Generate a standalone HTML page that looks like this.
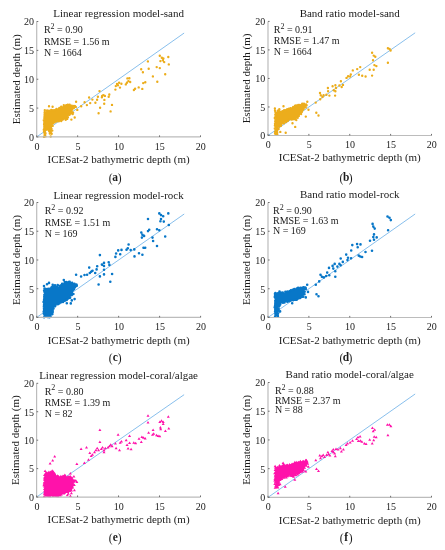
<!DOCTYPE html>
<html><head><meta charset="utf-8"><style>
html,body{margin:0;padding:0;background:#fff;}
svg{display:block;filter:blur(0.35px);}
text{font-family:"Liberation Serif",serif;fill:#1a1a1a;}
</style></head><body>
<svg width="445" height="550" viewBox="0 0 445 550">
<line x1="36.7" y1="136.95" x2="184.12" y2="33.05" stroke="#72b4e8" stroke-width="0.85"/>
<path d="M44.3 136.6L45.2 136.6L45.4 131.2L48.0 129.9L49.8 133.4L51.9 133.4L51.9 128.7L52.2 126.0L53.4 123.3L56.5 121.6L59.0 121.4L61.4 121.1L63.0 119.9L65.4 119.6L67.0 119.2L67.5 116.8L69.9 114.9L72.5 113.9L72.7 112.9L71.3 110.8L73.6 107.8L75.8 106.8L75.5 106.5L72.1 105.6L69.6 104.5L66.2 105.0L63.8 105.4L61.2 107.1L58.4 108.6L54.6 109.9L50.9 110.2L47.1 110.6L45.1 112.0L44.4 110.7L44.2 120.0Z" fill="#ECAD1C"/><path d="M42.8 136.9a1.2 1.2 0 1 0 2.4 0a1.2 1.2 0 1 0 -2.4 0M44.2 136.4a1.2 1.2 0 1 0 2.4 0a1.2 1.2 0 1 0 -2.4 0M44.0 134.7a1.2 1.2 0 1 0 2.4 0a1.2 1.2 0 1 0 -2.4 0M44.3 133.2a1.2 1.2 0 1 0 2.4 0a1.2 1.2 0 1 0 -2.4 0M43.9 130.7a1.2 1.2 0 1 0 2.4 0a1.2 1.2 0 1 0 -2.4 0M47.1 129.8a1.2 1.2 0 1 0 2.4 0a1.2 1.2 0 1 0 -2.4 0M48.0 131.2a1.2 1.2 0 1 0 2.4 0a1.2 1.2 0 1 0 -2.4 0M48.6 133.6a1.2 1.2 0 1 0 2.4 0a1.2 1.2 0 1 0 -2.4 0M50.5 133.8a1.2 1.2 0 1 0 2.4 0a1.2 1.2 0 1 0 -2.4 0M51.1 130.6a1.2 1.2 0 1 0 2.4 0a1.2 1.2 0 1 0 -2.4 0M50.3 128.8a1.2 1.2 0 1 0 2.4 0a1.2 1.2 0 1 0 -2.4 0M51.4 125.9a1.2 1.2 0 1 0 2.4 0a1.2 1.2 0 1 0 -2.4 0M52.0 123.2a1.2 1.2 0 1 0 2.4 0a1.2 1.2 0 1 0 -2.4 0M53.3 122.2a1.2 1.2 0 1 0 2.4 0a1.2 1.2 0 1 0 -2.4 0M55.3 121.6a1.2 1.2 0 1 0 2.4 0a1.2 1.2 0 1 0 -2.4 0M57.6 121.2a1.2 1.2 0 1 0 2.4 0a1.2 1.2 0 1 0 -2.4 0M60.0 121.1a1.2 1.2 0 1 0 2.4 0a1.2 1.2 0 1 0 -2.4 0M61.6 119.5a1.2 1.2 0 1 0 2.4 0a1.2 1.2 0 1 0 -2.4 0M64.5 119.7a1.2 1.2 0 1 0 2.4 0a1.2 1.2 0 1 0 -2.4 0M66.0 118.9a1.2 1.2 0 1 0 2.4 0a1.2 1.2 0 1 0 -2.4 0M66.7 117.2a1.2 1.2 0 1 0 2.4 0a1.2 1.2 0 1 0 -2.4 0M68.3 114.8a1.2 1.2 0 1 0 2.4 0a1.2 1.2 0 1 0 -2.4 0M71.5 114.1a1.2 1.2 0 1 0 2.4 0a1.2 1.2 0 1 0 -2.4 0M71.9 112.8a1.2 1.2 0 1 0 2.4 0a1.2 1.2 0 1 0 -2.4 0M70.4 110.9a1.2 1.2 0 1 0 2.4 0a1.2 1.2 0 1 0 -2.4 0M71.0 109.3a1.2 1.2 0 1 0 2.4 0a1.2 1.2 0 1 0 -2.4 0M72.7 108.1a1.2 1.2 0 1 0 2.4 0a1.2 1.2 0 1 0 -2.4 0M74.6 106.9a1.2 1.2 0 1 0 2.4 0a1.2 1.2 0 1 0 -2.4 0M73.9 106.3a1.2 1.2 0 1 0 2.4 0a1.2 1.2 0 1 0 -2.4 0M72.8 106.0a1.2 1.2 0 1 0 2.4 0a1.2 1.2 0 1 0 -2.4 0M70.6 105.7a1.2 1.2 0 1 0 2.4 0a1.2 1.2 0 1 0 -2.4 0M68.5 104.7a1.2 1.2 0 1 0 2.4 0a1.2 1.2 0 1 0 -2.4 0M66.6 104.7a1.2 1.2 0 1 0 2.4 0a1.2 1.2 0 1 0 -2.4 0M65.0 105.2a1.2 1.2 0 1 0 2.4 0a1.2 1.2 0 1 0 -2.4 0M62.6 105.3a1.2 1.2 0 1 0 2.4 0a1.2 1.2 0 1 0 -2.4 0M60.0 106.6a1.2 1.2 0 1 0 2.4 0a1.2 1.2 0 1 0 -2.4 0M58.2 108.0a1.2 1.2 0 1 0 2.4 0a1.2 1.2 0 1 0 -2.4 0M57.6 108.7a1.2 1.2 0 1 0 2.4 0a1.2 1.2 0 1 0 -2.4 0M55.2 109.0a1.2 1.2 0 1 0 2.4 0a1.2 1.2 0 1 0 -2.4 0M53.4 110.3a1.2 1.2 0 1 0 2.4 0a1.2 1.2 0 1 0 -2.4 0M51.8 110.1a1.2 1.2 0 1 0 2.4 0a1.2 1.2 0 1 0 -2.4 0M50.0 110.0a1.2 1.2 0 1 0 2.4 0a1.2 1.2 0 1 0 -2.4 0M47.8 110.8a1.2 1.2 0 1 0 2.4 0a1.2 1.2 0 1 0 -2.4 0M45.9 110.5a1.2 1.2 0 1 0 2.4 0a1.2 1.2 0 1 0 -2.4 0M43.6 112.0a1.2 1.2 0 1 0 2.4 0a1.2 1.2 0 1 0 -2.4 0M43.6 110.2a1.2 1.2 0 1 0 2.4 0a1.2 1.2 0 1 0 -2.4 0M43.4 112.8a1.2 1.2 0 1 0 2.4 0a1.2 1.2 0 1 0 -2.4 0M43.4 114.6a1.2 1.2 0 1 0 2.4 0a1.2 1.2 0 1 0 -2.4 0M43.3 116.3a1.2 1.2 0 1 0 2.4 0a1.2 1.2 0 1 0 -2.4 0M43.1 118.1a1.2 1.2 0 1 0 2.4 0a1.2 1.2 0 1 0 -2.4 0M42.6 120.3a1.2 1.2 0 1 0 2.4 0a1.2 1.2 0 1 0 -2.4 0M43.1 121.4a1.2 1.2 0 1 0 2.4 0a1.2 1.2 0 1 0 -2.4 0M43.0 123.3a1.2 1.2 0 1 0 2.4 0a1.2 1.2 0 1 0 -2.4 0M42.9 124.8a1.2 1.2 0 1 0 2.4 0a1.2 1.2 0 1 0 -2.4 0M43.1 126.8a1.2 1.2 0 1 0 2.4 0a1.2 1.2 0 1 0 -2.4 0M43.1 128.3a1.2 1.2 0 1 0 2.4 0a1.2 1.2 0 1 0 -2.4 0M42.6 129.7a1.2 1.2 0 1 0 2.4 0a1.2 1.2 0 1 0 -2.4 0M42.8 131.7a1.2 1.2 0 1 0 2.4 0a1.2 1.2 0 1 0 -2.4 0M43.4 133.5a1.2 1.2 0 1 0 2.4 0a1.2 1.2 0 1 0 -2.4 0M43.4 135.2a1.2 1.2 0 1 0 2.4 0a1.2 1.2 0 1 0 -2.4 0M158.6 55.7a1.2 1.2 0 1 0 2.4 0a1.2 1.2 0 1 0 -2.4 0M160.6 57.8a1.2 1.2 0 1 0 2.4 0a1.2 1.2 0 1 0 -2.4 0M162.2 58.4a1.2 1.2 0 1 0 2.4 0a1.2 1.2 0 1 0 -2.4 0M161.7 60.3a1.2 1.2 0 1 0 2.4 0a1.2 1.2 0 1 0 -2.4 0M159.2 61.1a1.2 1.2 0 1 0 2.4 0a1.2 1.2 0 1 0 -2.4 0M163.0 62.1a1.2 1.2 0 1 0 2.4 0a1.2 1.2 0 1 0 -2.4 0M167.1 57.0a1.2 1.2 0 1 0 2.4 0a1.2 1.2 0 1 0 -2.4 0M167.6 64.4a1.2 1.2 0 1 0 2.4 0a1.2 1.2 0 1 0 -2.4 0M146.7 61.4a1.2 1.2 0 1 0 2.4 0a1.2 1.2 0 1 0 -2.4 0M155.5 67.1a1.2 1.2 0 1 0 2.4 0a1.2 1.2 0 1 0 -2.4 0M158.6 68.1a1.2 1.2 0 1 0 2.4 0a1.2 1.2 0 1 0 -2.4 0M147.5 68.8a1.2 1.2 0 1 0 2.4 0a1.2 1.2 0 1 0 -2.4 0M140.0 69.3a1.2 1.2 0 1 0 2.4 0a1.2 1.2 0 1 0 -2.4 0M141.7 72.2a1.2 1.2 0 1 0 2.4 0a1.2 1.2 0 1 0 -2.4 0M164.0 74.2a1.2 1.2 0 1 0 2.4 0a1.2 1.2 0 1 0 -2.4 0M151.7 76.4a1.2 1.2 0 1 0 2.4 0a1.2 1.2 0 1 0 -2.4 0M156.1 81.8a1.2 1.2 0 1 0 2.4 0a1.2 1.2 0 1 0 -2.4 0M144.1 82.3a1.2 1.2 0 1 0 2.4 0a1.2 1.2 0 1 0 -2.4 0M142.0 83.1a1.2 1.2 0 1 0 2.4 0a1.2 1.2 0 1 0 -2.4 0M126.2 78.4a1.2 1.2 0 1 0 2.4 0a1.2 1.2 0 1 0 -2.4 0M128.2 78.2a1.2 1.2 0 1 0 2.4 0a1.2 1.2 0 1 0 -2.4 0M127.2 81.1a1.2 1.2 0 1 0 2.4 0a1.2 1.2 0 1 0 -2.4 0M129.0 82.0a1.2 1.2 0 1 0 2.4 0a1.2 1.2 0 1 0 -2.4 0M124.6 84.4a1.2 1.2 0 1 0 2.4 0a1.2 1.2 0 1 0 -2.4 0M120.2 83.8a1.2 1.2 0 1 0 2.4 0a1.2 1.2 0 1 0 -2.4 0M141.1 88.9a1.2 1.2 0 1 0 2.4 0a1.2 1.2 0 1 0 -2.4 0M137.5 87.4a1.2 1.2 0 1 0 2.4 0a1.2 1.2 0 1 0 -2.4 0M133.9 88.8a1.2 1.2 0 1 0 2.4 0a1.2 1.2 0 1 0 -2.4 0M132.7 90.0a1.2 1.2 0 1 0 2.4 0a1.2 1.2 0 1 0 -2.4 0M115.8 84.0a1.2 1.2 0 1 0 2.4 0a1.2 1.2 0 1 0 -2.4 0M117.9 82.8a1.2 1.2 0 1 0 2.4 0a1.2 1.2 0 1 0 -2.4 0M116.8 85.2a1.2 1.2 0 1 0 2.4 0a1.2 1.2 0 1 0 -2.4 0M114.6 86.1a1.2 1.2 0 1 0 2.4 0a1.2 1.2 0 1 0 -2.4 0M118.8 87.6a1.2 1.2 0 1 0 2.4 0a1.2 1.2 0 1 0 -2.4 0M114.2 89.6a1.2 1.2 0 1 0 2.4 0a1.2 1.2 0 1 0 -2.4 0M98.3 91.1a1.2 1.2 0 1 0 2.4 0a1.2 1.2 0 1 0 -2.4 0M108.1 94.5a1.2 1.2 0 1 0 2.4 0a1.2 1.2 0 1 0 -2.4 0M107.5 96.8a1.2 1.2 0 1 0 2.4 0a1.2 1.2 0 1 0 -2.4 0M100.9 95.9a1.2 1.2 0 1 0 2.4 0a1.2 1.2 0 1 0 -2.4 0M102.2 95.1a1.2 1.2 0 1 0 2.4 0a1.2 1.2 0 1 0 -2.4 0M103.7 95.9a1.2 1.2 0 1 0 2.4 0a1.2 1.2 0 1 0 -2.4 0M100.7 97.2a1.2 1.2 0 1 0 2.4 0a1.2 1.2 0 1 0 -2.4 0M96.7 96.8a1.2 1.2 0 1 0 2.4 0a1.2 1.2 0 1 0 -2.4 0M95.9 99.7a1.2 1.2 0 1 0 2.4 0a1.2 1.2 0 1 0 -2.4 0M103.2 99.9a1.2 1.2 0 1 0 2.4 0a1.2 1.2 0 1 0 -2.4 0M94.2 102.8a1.2 1.2 0 1 0 2.4 0a1.2 1.2 0 1 0 -2.4 0M103.0 103.8a1.2 1.2 0 1 0 2.4 0a1.2 1.2 0 1 0 -2.4 0M110.8 104.9a1.2 1.2 0 1 0 2.4 0a1.2 1.2 0 1 0 -2.4 0M98.9 107.8a1.2 1.2 0 1 0 2.4 0a1.2 1.2 0 1 0 -2.4 0M109.4 111.4a1.2 1.2 0 1 0 2.4 0a1.2 1.2 0 1 0 -2.4 0M97.4 113.2a1.2 1.2 0 1 0 2.4 0a1.2 1.2 0 1 0 -2.4 0M74.9 101.7a1.2 1.2 0 1 0 2.4 0a1.2 1.2 0 1 0 -2.4 0M76.1 109.9a1.2 1.2 0 1 0 2.4 0a1.2 1.2 0 1 0 -2.4 0M73.5 117.5a1.2 1.2 0 1 0 2.4 0a1.2 1.2 0 1 0 -2.4 0M70.2 119.6a1.2 1.2 0 1 0 2.4 0a1.2 1.2 0 1 0 -2.4 0M80.0 106.2a1.2 1.2 0 1 0 2.4 0a1.2 1.2 0 1 0 -2.4 0M83.4 102.3a1.2 1.2 0 1 0 2.4 0a1.2 1.2 0 1 0 -2.4 0M85.7 105.1a1.2 1.2 0 1 0 2.4 0a1.2 1.2 0 1 0 -2.4 0M87.9 97.5a1.2 1.2 0 1 0 2.4 0a1.2 1.2 0 1 0 -2.4 0M89.0 103.1a1.2 1.2 0 1 0 2.4 0a1.2 1.2 0 1 0 -2.4 0M91.2 99.6a1.2 1.2 0 1 0 2.4 0a1.2 1.2 0 1 0 -2.4 0M125.7 82.8a1.2 1.2 0 1 0 2.4 0a1.2 1.2 0 1 0 -2.4 0M47.8 106.2a1.2 1.2 0 1 0 2.4 0a1.2 1.2 0 1 0 -2.4 0M51.4 106.7a1.2 1.2 0 1 0 2.4 0a1.2 1.2 0 1 0 -2.4 0M49.5 136.5a1.2 1.2 0 1 0 2.4 0a1.2 1.2 0 1 0 -2.4 0" fill="#ECAD1C"/>
<path d="M36.7 21.5V136.95H200.5" fill="none" stroke="#bcbcbc" stroke-width="1.2"/>
<path d="M36.7 136.95v-1.6M36.7 136.95h1.6M77.65 136.95v-1.6M36.7 108.09h1.6M118.6 136.95v-1.6M36.7 79.22h1.6M159.55 136.95v-1.6M36.7 50.36h1.6M200.5 136.95v-1.6M36.7 21.5h1.6" stroke="#707070" stroke-width="1"/>
<text x="37" y="149.9" text-anchor="middle" font-size="10">0</text>
<text x="34" y="140.8" text-anchor="end" font-size="10">0</text>
<text x="77.95" y="149.9" text-anchor="middle" font-size="10">5</text>
<text x="34" y="111.94" text-anchor="end" font-size="10">5</text>
<text x="118.9" y="149.9" text-anchor="middle" font-size="10">10</text>
<text x="34" y="83.07" text-anchor="end" font-size="10">10</text>
<text x="159.85" y="149.9" text-anchor="middle" font-size="10">15</text>
<text x="34" y="54.21" text-anchor="end" font-size="10">15</text>
<text x="200.8" y="149.9" text-anchor="middle" font-size="10">20</text>
<text x="34" y="25.35" text-anchor="end" font-size="10">20</text>
<text x="118.6" y="17.3" text-anchor="middle" font-size="11">Linear regression model-sand</text>
<text x="43.9" y="33" font-size="10">R<tspan font-size="8" dy="-4.2">2</tspan><tspan dy="4.2"> = 0.90</tspan></text>
<text x="43.9" y="44.5" font-size="10">RMSE = 1.56 m</text>
<text x="43.9" y="56" font-size="10">N = 1664</text>
<text x="118.6" y="163.2" text-anchor="middle" font-size="11">ICESat-2 bathymetric depth (m)</text>
<text transform="translate(19.5 79.22) rotate(-90)" text-anchor="middle" font-size="11">Estimated depth (m)</text>
<text x="108.7" y="182" font-size="11.5">(</text>
<text x="121.7" y="182" text-anchor="end" font-size="11.5">)</text>
<text transform="translate(115.2 181.2) scale(0.85 1)" text-anchor="middle" font-size="13.5" font-weight="bold">a</text>
<line x1="268" y1="135.5" x2="415.15" y2="32.81" stroke="#72b4e8" stroke-width="0.85"/>
<path d="M275.3 110.5L275.3 114.8L275.0 122.0L275.5 134.9L277.5 134.9L277.5 130.8L279.0 126.8L282.0 123.9L285.7 122.0L289.5 119.2L294.6 119.2L296.0 120.1L296.0 119.3L299.0 115.9L301.1 113.7L302.9 110.1L305.2 107.4L306.7 105.6L306.1 104.0L303.7 103.6L299.9 104.5L296.4 105.4L292.9 106.7L290.2 108.0L285.7 109.8L280.7 112.0L279.4 109.2L279.2 109.3L276.4 114.0Z" fill="#ECAD1C"/><path d="M273.8 110.8a1.2 1.2 0 1 0 2.4 0a1.2 1.2 0 1 0 -2.4 0M274.3 112.5a1.2 1.2 0 1 0 2.4 0a1.2 1.2 0 1 0 -2.4 0M274.1 114.8a1.2 1.2 0 1 0 2.4 0a1.2 1.2 0 1 0 -2.4 0M274.2 116.9a1.2 1.2 0 1 0 2.4 0a1.2 1.2 0 1 0 -2.4 0M273.6 118.0a1.2 1.2 0 1 0 2.4 0a1.2 1.2 0 1 0 -2.4 0M274.2 120.1a1.2 1.2 0 1 0 2.4 0a1.2 1.2 0 1 0 -2.4 0M274.0 121.6a1.2 1.2 0 1 0 2.4 0a1.2 1.2 0 1 0 -2.4 0M273.8 123.8a1.2 1.2 0 1 0 2.4 0a1.2 1.2 0 1 0 -2.4 0M273.7 125.6a1.2 1.2 0 1 0 2.4 0a1.2 1.2 0 1 0 -2.4 0M274.3 126.4a1.2 1.2 0 1 0 2.4 0a1.2 1.2 0 1 0 -2.4 0M273.6 128.5a1.2 1.2 0 1 0 2.4 0a1.2 1.2 0 1 0 -2.4 0M274.5 130.0a1.2 1.2 0 1 0 2.4 0a1.2 1.2 0 1 0 -2.4 0M273.9 131.6a1.2 1.2 0 1 0 2.4 0a1.2 1.2 0 1 0 -2.4 0M273.8 133.0a1.2 1.2 0 1 0 2.4 0a1.2 1.2 0 1 0 -2.4 0M274.2 134.9a1.2 1.2 0 1 0 2.4 0a1.2 1.2 0 1 0 -2.4 0M276.1 134.7a1.2 1.2 0 1 0 2.4 0a1.2 1.2 0 1 0 -2.4 0M276.0 132.8a1.2 1.2 0 1 0 2.4 0a1.2 1.2 0 1 0 -2.4 0M276.1 130.4a1.2 1.2 0 1 0 2.4 0a1.2 1.2 0 1 0 -2.4 0M277.4 128.9a1.2 1.2 0 1 0 2.4 0a1.2 1.2 0 1 0 -2.4 0M278.0 126.6a1.2 1.2 0 1 0 2.4 0a1.2 1.2 0 1 0 -2.4 0M279.8 125.7a1.2 1.2 0 1 0 2.4 0a1.2 1.2 0 1 0 -2.4 0M280.5 123.7a1.2 1.2 0 1 0 2.4 0a1.2 1.2 0 1 0 -2.4 0M282.8 123.2a1.2 1.2 0 1 0 2.4 0a1.2 1.2 0 1 0 -2.4 0M284.9 122.0a1.2 1.2 0 1 0 2.4 0a1.2 1.2 0 1 0 -2.4 0M286.7 120.8a1.2 1.2 0 1 0 2.4 0a1.2 1.2 0 1 0 -2.4 0M288.1 119.3a1.2 1.2 0 1 0 2.4 0a1.2 1.2 0 1 0 -2.4 0M290.3 119.5a1.2 1.2 0 1 0 2.4 0a1.2 1.2 0 1 0 -2.4 0M291.7 119.3a1.2 1.2 0 1 0 2.4 0a1.2 1.2 0 1 0 -2.4 0M293.0 119.0a1.2 1.2 0 1 0 2.4 0a1.2 1.2 0 1 0 -2.4 0M295.1 120.1a1.2 1.2 0 1 0 2.4 0a1.2 1.2 0 1 0 -2.4 0M294.5 119.4a1.2 1.2 0 1 0 2.4 0a1.2 1.2 0 1 0 -2.4 0M296.5 117.8a1.2 1.2 0 1 0 2.4 0a1.2 1.2 0 1 0 -2.4 0M297.6 115.9a1.2 1.2 0 1 0 2.4 0a1.2 1.2 0 1 0 -2.4 0M299.9 114.0a1.2 1.2 0 1 0 2.4 0a1.2 1.2 0 1 0 -2.4 0M300.8 111.8a1.2 1.2 0 1 0 2.4 0a1.2 1.2 0 1 0 -2.4 0M301.7 109.7a1.2 1.2 0 1 0 2.4 0a1.2 1.2 0 1 0 -2.4 0M302.4 108.9a1.2 1.2 0 1 0 2.4 0a1.2 1.2 0 1 0 -2.4 0M304.5 107.4a1.2 1.2 0 1 0 2.4 0a1.2 1.2 0 1 0 -2.4 0M305.4 105.3a1.2 1.2 0 1 0 2.4 0a1.2 1.2 0 1 0 -2.4 0M304.9 104.4a1.2 1.2 0 1 0 2.4 0a1.2 1.2 0 1 0 -2.4 0M302.8 103.7a1.2 1.2 0 1 0 2.4 0a1.2 1.2 0 1 0 -2.4 0M301.0 103.8a1.2 1.2 0 1 0 2.4 0a1.2 1.2 0 1 0 -2.4 0M298.7 104.9a1.2 1.2 0 1 0 2.4 0a1.2 1.2 0 1 0 -2.4 0M297.0 104.9a1.2 1.2 0 1 0 2.4 0a1.2 1.2 0 1 0 -2.4 0M295.0 105.4a1.2 1.2 0 1 0 2.4 0a1.2 1.2 0 1 0 -2.4 0M293.9 105.6a1.2 1.2 0 1 0 2.4 0a1.2 1.2 0 1 0 -2.4 0M292.0 107.0a1.2 1.2 0 1 0 2.4 0a1.2 1.2 0 1 0 -2.4 0M289.4 108.2a1.2 1.2 0 1 0 2.4 0a1.2 1.2 0 1 0 -2.4 0M287.8 108.6a1.2 1.2 0 1 0 2.4 0a1.2 1.2 0 1 0 -2.4 0M286.0 109.2a1.2 1.2 0 1 0 2.4 0a1.2 1.2 0 1 0 -2.4 0M284.1 110.2a1.2 1.2 0 1 0 2.4 0a1.2 1.2 0 1 0 -2.4 0M282.9 110.3a1.2 1.2 0 1 0 2.4 0a1.2 1.2 0 1 0 -2.4 0M281.2 111.3a1.2 1.2 0 1 0 2.4 0a1.2 1.2 0 1 0 -2.4 0M279.4 111.9a1.2 1.2 0 1 0 2.4 0a1.2 1.2 0 1 0 -2.4 0M278.2 109.4a1.2 1.2 0 1 0 2.4 0a1.2 1.2 0 1 0 -2.4 0M278.1 109.3a1.2 1.2 0 1 0 2.4 0a1.2 1.2 0 1 0 -2.4 0M276.6 110.6a1.2 1.2 0 1 0 2.4 0a1.2 1.2 0 1 0 -2.4 0M275.9 112.5a1.2 1.2 0 1 0 2.4 0a1.2 1.2 0 1 0 -2.4 0M275.6 114.3a1.2 1.2 0 1 0 2.4 0a1.2 1.2 0 1 0 -2.4 0M274.9 112.6a1.2 1.2 0 1 0 2.4 0a1.2 1.2 0 1 0 -2.4 0M282.3 106.2a1.2 1.2 0 1 0 2.4 0a1.2 1.2 0 1 0 -2.4 0M273.7 108.5a1.2 1.2 0 1 0 2.4 0a1.2 1.2 0 1 0 -2.4 0M306.1 101.8a1.2 1.2 0 1 0 2.4 0a1.2 1.2 0 1 0 -2.4 0M307.3 109.8a1.2 1.2 0 1 0 2.4 0a1.2 1.2 0 1 0 -2.4 0M304.6 116.6a1.2 1.2 0 1 0 2.4 0a1.2 1.2 0 1 0 -2.4 0M291.3 123.3a1.2 1.2 0 1 0 2.4 0a1.2 1.2 0 1 0 -2.4 0M294.0 126.9a1.2 1.2 0 1 0 2.4 0a1.2 1.2 0 1 0 -2.4 0M284.5 132.8a1.2 1.2 0 1 0 2.4 0a1.2 1.2 0 1 0 -2.4 0M279.1 131.9a1.2 1.2 0 1 0 2.4 0a1.2 1.2 0 1 0 -2.4 0M314.5 102.6a1.2 1.2 0 1 0 2.4 0a1.2 1.2 0 1 0 -2.4 0M315.1 112.7a1.2 1.2 0 1 0 2.4 0a1.2 1.2 0 1 0 -2.4 0M317.3 115.5a1.2 1.2 0 1 0 2.4 0a1.2 1.2 0 1 0 -2.4 0M319.0 99.2a1.2 1.2 0 1 0 2.4 0a1.2 1.2 0 1 0 -2.4 0M318.8 93.0a1.2 1.2 0 1 0 2.4 0a1.2 1.2 0 1 0 -2.4 0M319.6 95.3a1.2 1.2 0 1 0 2.4 0a1.2 1.2 0 1 0 -2.4 0M321.3 97.0a1.2 1.2 0 1 0 2.4 0a1.2 1.2 0 1 0 -2.4 0M322.4 95.3a1.2 1.2 0 1 0 2.4 0a1.2 1.2 0 1 0 -2.4 0M325.2 94.7a1.2 1.2 0 1 0 2.4 0a1.2 1.2 0 1 0 -2.4 0M326.9 91.3a1.2 1.2 0 1 0 2.4 0a1.2 1.2 0 1 0 -2.4 0M326.7 88.0a1.2 1.2 0 1 0 2.4 0a1.2 1.2 0 1 0 -2.4 0M328.2 95.6a1.2 1.2 0 1 0 2.4 0a1.2 1.2 0 1 0 -2.4 0M331.4 86.3a1.2 1.2 0 1 0 2.4 0a1.2 1.2 0 1 0 -2.4 0M332.5 90.2a1.2 1.2 0 1 0 2.4 0a1.2 1.2 0 1 0 -2.4 0M334.2 85.2a1.2 1.2 0 1 0 2.4 0a1.2 1.2 0 1 0 -2.4 0M334.8 88.0a1.2 1.2 0 1 0 2.4 0a1.2 1.2 0 1 0 -2.4 0M334.2 91.3a1.2 1.2 0 1 0 2.4 0a1.2 1.2 0 1 0 -2.4 0M333.9 95.6a1.2 1.2 0 1 0 2.4 0a1.2 1.2 0 1 0 -2.4 0M338.2 85.5a1.2 1.2 0 1 0 2.4 0a1.2 1.2 0 1 0 -2.4 0M339.7 81.2a1.2 1.2 0 1 0 2.4 0a1.2 1.2 0 1 0 -2.4 0M340.5 87.0a1.2 1.2 0 1 0 2.4 0a1.2 1.2 0 1 0 -2.4 0M341.8 84.9a1.2 1.2 0 1 0 2.4 0a1.2 1.2 0 1 0 -2.4 0M345.3 77.9a1.2 1.2 0 1 0 2.4 0a1.2 1.2 0 1 0 -2.4 0M346.9 76.3a1.2 1.2 0 1 0 2.4 0a1.2 1.2 0 1 0 -2.4 0M349.6 74.5a1.2 1.2 0 1 0 2.4 0a1.2 1.2 0 1 0 -2.4 0M348.9 76.5a1.2 1.2 0 1 0 2.4 0a1.2 1.2 0 1 0 -2.4 0M351.6 70.4a1.2 1.2 0 1 0 2.4 0a1.2 1.2 0 1 0 -2.4 0M356.0 69.1a1.2 1.2 0 1 0 2.4 0a1.2 1.2 0 1 0 -2.4 0M359.0 67.1a1.2 1.2 0 1 0 2.4 0a1.2 1.2 0 1 0 -2.4 0M357.7 74.8a1.2 1.2 0 1 0 2.4 0a1.2 1.2 0 1 0 -2.4 0M361.0 75.8a1.2 1.2 0 1 0 2.4 0a1.2 1.2 0 1 0 -2.4 0M364.4 76.5a1.2 1.2 0 1 0 2.4 0a1.2 1.2 0 1 0 -2.4 0M368.5 69.8a1.2 1.2 0 1 0 2.4 0a1.2 1.2 0 1 0 -2.4 0M370.9 52.7a1.2 1.2 0 1 0 2.4 0a1.2 1.2 0 1 0 -2.4 0M372.5 55.6a1.2 1.2 0 1 0 2.4 0a1.2 1.2 0 1 0 -2.4 0M374.1 56.7a1.2 1.2 0 1 0 2.4 0a1.2 1.2 0 1 0 -2.4 0M371.8 60.3a1.2 1.2 0 1 0 2.4 0a1.2 1.2 0 1 0 -2.4 0M373.2 65.1a1.2 1.2 0 1 0 2.4 0a1.2 1.2 0 1 0 -2.4 0M375.2 66.1a1.2 1.2 0 1 0 2.4 0a1.2 1.2 0 1 0 -2.4 0M372.5 69.8a1.2 1.2 0 1 0 2.4 0a1.2 1.2 0 1 0 -2.4 0M370.9 75.6a1.2 1.2 0 1 0 2.4 0a1.2 1.2 0 1 0 -2.4 0M386.7 48.2a1.2 1.2 0 1 0 2.4 0a1.2 1.2 0 1 0 -2.4 0M388.4 48.9a1.2 1.2 0 1 0 2.4 0a1.2 1.2 0 1 0 -2.4 0M389.4 50.5a1.2 1.2 0 1 0 2.4 0a1.2 1.2 0 1 0 -2.4 0M386.7 62.8a1.2 1.2 0 1 0 2.4 0a1.2 1.2 0 1 0 -2.4 0" fill="#ECAD1C"/>
<path d="M268 21.4V135.5H431.5" fill="none" stroke="#bcbcbc" stroke-width="1.2"/>
<path d="M268 135.5v-1.6M268 135.5h1.6M308.88 135.5v-1.6M268 106.97h1.6M349.75 135.5v-1.6M268 78.45h1.6M390.62 135.5v-1.6M268 49.92h1.6M431.5 135.5v-1.6M268 21.4h1.6" stroke="#707070" stroke-width="1"/>
<text x="268.3" y="148" text-anchor="middle" font-size="10">0</text>
<text x="265.3" y="139.35" text-anchor="end" font-size="10">0</text>
<text x="309.18" y="148" text-anchor="middle" font-size="10">5</text>
<text x="265.3" y="110.82" text-anchor="end" font-size="10">5</text>
<text x="350.05" y="148" text-anchor="middle" font-size="10">10</text>
<text x="265.3" y="82.3" text-anchor="end" font-size="10">10</text>
<text x="390.93" y="148" text-anchor="middle" font-size="10">15</text>
<text x="265.3" y="53.77" text-anchor="end" font-size="10">15</text>
<text x="431.8" y="148" text-anchor="middle" font-size="10">20</text>
<text x="265.3" y="25.25" text-anchor="end" font-size="10">20</text>
<text x="349.75" y="17.2" text-anchor="middle" font-size="11">Band ratio model-sand</text>
<text x="273.8" y="32.8" font-size="10">R<tspan font-size="8" dy="-4.2">2</tspan><tspan dy="4.2"> = 0.91</tspan></text>
<text x="273.8" y="43.7" font-size="10">RMSE = 1.47 m</text>
<text x="273.8" y="54.6" font-size="10">N = 1664</text>
<text x="349.75" y="161.4" text-anchor="middle" font-size="11">ICESat-2 bathymetric depth (m)</text>
<text transform="translate(250.2 78.45) rotate(-90)" text-anchor="middle" font-size="11">Estimated depth (m)</text>
<text x="339.6" y="182" font-size="11.5">(</text>
<text x="352.6" y="182" text-anchor="end" font-size="11.5">)</text>
<text transform="translate(346.1 181.2) scale(0.85 1)" text-anchor="middle" font-size="13.5" font-weight="bold">b</text>
<line x1="36.7" y1="317.45" x2="184.21" y2="214" stroke="#72b4e8" stroke-width="0.85"/>
<path d="M44.4 317.0L50.9 317.0L52.1 314.2L52.7 310.7L53.7 308.2L55.8 305.2L59.1 303.6L63.1 301.9L67.0 299.9L69.8 297.8L71.7 295.4L73.0 293.7L73.0 290.8L74.7 287.4L76.5 285.7L76.7 284.8L74.0 283.5L70.1 282.1L64.6 282.1L62.3 283.9L59.7 286.1L56.9 287.2L53.3 287.2L47.0 289.3L45.2 288.3L44.5 288.8L44.0 296.3L44.0 310.4Z" fill="#0877C8"/><path d="M42.8 317.3a1.3 1.3 0 1 0 2.6 0a1.3 1.3 0 1 0 -2.6 0M45.0 316.8a1.3 1.3 0 1 0 2.6 0a1.3 1.3 0 1 0 -2.6 0M46.3 317.0a1.3 1.3 0 1 0 2.6 0a1.3 1.3 0 1 0 -2.6 0M48.1 317.3a1.3 1.3 0 1 0 2.6 0a1.3 1.3 0 1 0 -2.6 0M49.2 316.6a1.3 1.3 0 1 0 2.6 0a1.3 1.3 0 1 0 -2.6 0M51.1 314.1a1.3 1.3 0 1 0 2.6 0a1.3 1.3 0 1 0 -2.6 0M51.4 312.0a1.3 1.3 0 1 0 2.6 0a1.3 1.3 0 1 0 -2.6 0M51.4 310.9a1.3 1.3 0 1 0 2.6 0a1.3 1.3 0 1 0 -2.6 0M52.2 308.6a1.3 1.3 0 1 0 2.6 0a1.3 1.3 0 1 0 -2.6 0M53.8 306.3a1.3 1.3 0 1 0 2.6 0a1.3 1.3 0 1 0 -2.6 0M54.1 305.3a1.3 1.3 0 1 0 2.6 0a1.3 1.3 0 1 0 -2.6 0M56.5 304.3a1.3 1.3 0 1 0 2.6 0a1.3 1.3 0 1 0 -2.6 0M57.5 303.5a1.3 1.3 0 1 0 2.6 0a1.3 1.3 0 1 0 -2.6 0M59.4 302.5a1.3 1.3 0 1 0 2.6 0a1.3 1.3 0 1 0 -2.6 0M61.7 301.9a1.3 1.3 0 1 0 2.6 0a1.3 1.3 0 1 0 -2.6 0M63.5 300.7a1.3 1.3 0 1 0 2.6 0a1.3 1.3 0 1 0 -2.6 0M65.4 299.9a1.3 1.3 0 1 0 2.6 0a1.3 1.3 0 1 0 -2.6 0M66.9 298.4a1.3 1.3 0 1 0 2.6 0a1.3 1.3 0 1 0 -2.6 0M68.8 297.8a1.3 1.3 0 1 0 2.6 0a1.3 1.3 0 1 0 -2.6 0M70.5 295.1a1.3 1.3 0 1 0 2.6 0a1.3 1.3 0 1 0 -2.6 0M72.1 294.0a1.3 1.3 0 1 0 2.6 0a1.3 1.3 0 1 0 -2.6 0M71.4 290.6a1.3 1.3 0 1 0 2.6 0a1.3 1.3 0 1 0 -2.6 0M72.7 289.3a1.3 1.3 0 1 0 2.6 0a1.3 1.3 0 1 0 -2.6 0M73.8 287.3a1.3 1.3 0 1 0 2.6 0a1.3 1.3 0 1 0 -2.6 0M75.5 285.8a1.3 1.3 0 1 0 2.6 0a1.3 1.3 0 1 0 -2.6 0M75.3 284.8a1.3 1.3 0 1 0 2.6 0a1.3 1.3 0 1 0 -2.6 0M73.1 283.8a1.3 1.3 0 1 0 2.6 0a1.3 1.3 0 1 0 -2.6 0M70.8 282.9a1.3 1.3 0 1 0 2.6 0a1.3 1.3 0 1 0 -2.6 0M68.4 281.9a1.3 1.3 0 1 0 2.6 0a1.3 1.3 0 1 0 -2.6 0M67.3 282.0a1.3 1.3 0 1 0 2.6 0a1.3 1.3 0 1 0 -2.6 0M64.9 282.1a1.3 1.3 0 1 0 2.6 0a1.3 1.3 0 1 0 -2.6 0M63.5 282.3a1.3 1.3 0 1 0 2.6 0a1.3 1.3 0 1 0 -2.6 0M60.9 283.8a1.3 1.3 0 1 0 2.6 0a1.3 1.3 0 1 0 -2.6 0M59.7 285.2a1.3 1.3 0 1 0 2.6 0a1.3 1.3 0 1 0 -2.6 0M58.4 286.0a1.3 1.3 0 1 0 2.6 0a1.3 1.3 0 1 0 -2.6 0M55.6 286.8a1.3 1.3 0 1 0 2.6 0a1.3 1.3 0 1 0 -2.6 0M53.4 287.4a1.3 1.3 0 1 0 2.6 0a1.3 1.3 0 1 0 -2.6 0M52.4 287.3a1.3 1.3 0 1 0 2.6 0a1.3 1.3 0 1 0 -2.6 0M50.3 287.4a1.3 1.3 0 1 0 2.6 0a1.3 1.3 0 1 0 -2.6 0M48.8 288.7a1.3 1.3 0 1 0 2.6 0a1.3 1.3 0 1 0 -2.6 0M47.5 288.8a1.3 1.3 0 1 0 2.6 0a1.3 1.3 0 1 0 -2.6 0M46.0 289.0a1.3 1.3 0 1 0 2.6 0a1.3 1.3 0 1 0 -2.6 0M43.9 288.8a1.3 1.3 0 1 0 2.6 0a1.3 1.3 0 1 0 -2.6 0M43.2 288.7a1.3 1.3 0 1 0 2.6 0a1.3 1.3 0 1 0 -2.6 0M42.8 290.7a1.3 1.3 0 1 0 2.6 0a1.3 1.3 0 1 0 -2.6 0M43.3 292.1a1.3 1.3 0 1 0 2.6 0a1.3 1.3 0 1 0 -2.6 0M43.1 294.7a1.3 1.3 0 1 0 2.6 0a1.3 1.3 0 1 0 -2.6 0M43.0 296.5a1.3 1.3 0 1 0 2.6 0a1.3 1.3 0 1 0 -2.6 0M43.0 298.1a1.3 1.3 0 1 0 2.6 0a1.3 1.3 0 1 0 -2.6 0M42.8 299.8a1.3 1.3 0 1 0 2.6 0a1.3 1.3 0 1 0 -2.6 0M42.3 301.9a1.3 1.3 0 1 0 2.6 0a1.3 1.3 0 1 0 -2.6 0M42.8 303.1a1.3 1.3 0 1 0 2.6 0a1.3 1.3 0 1 0 -2.6 0M42.7 305.1a1.3 1.3 0 1 0 2.6 0a1.3 1.3 0 1 0 -2.6 0M42.6 306.7a1.3 1.3 0 1 0 2.6 0a1.3 1.3 0 1 0 -2.6 0M42.7 308.7a1.3 1.3 0 1 0 2.6 0a1.3 1.3 0 1 0 -2.6 0M42.8 310.3a1.3 1.3 0 1 0 2.6 0a1.3 1.3 0 1 0 -2.6 0M42.4 311.8a1.3 1.3 0 1 0 2.6 0a1.3 1.3 0 1 0 -2.6 0M42.6 313.8a1.3 1.3 0 1 0 2.6 0a1.3 1.3 0 1 0 -2.6 0M43.4 315.6a1.3 1.3 0 1 0 2.6 0a1.3 1.3 0 1 0 -2.6 0M47.7 282.9a1.3 1.3 0 1 0 2.6 0a1.3 1.3 0 1 0 -2.6 0M51.4 284.9a1.3 1.3 0 1 0 2.6 0a1.3 1.3 0 1 0 -2.6 0M56.4 285.0a1.3 1.3 0 1 0 2.6 0a1.3 1.3 0 1 0 -2.6 0M62.5 280.1a1.3 1.3 0 1 0 2.6 0a1.3 1.3 0 1 0 -2.6 0M74.8 274.7a1.3 1.3 0 1 0 2.6 0a1.3 1.3 0 1 0 -2.6 0M79.8 276.5a1.3 1.3 0 1 0 2.6 0a1.3 1.3 0 1 0 -2.6 0M83.2 275.0a1.3 1.3 0 1 0 2.6 0a1.3 1.3 0 1 0 -2.6 0M73.3 299.1a1.3 1.3 0 1 0 2.6 0a1.3 1.3 0 1 0 -2.6 0M70.5 300.4a1.3 1.3 0 1 0 2.6 0a1.3 1.3 0 1 0 -2.6 0M69.5 303.4a1.3 1.3 0 1 0 2.6 0a1.3 1.3 0 1 0 -2.6 0M65.5 303.3a1.3 1.3 0 1 0 2.6 0a1.3 1.3 0 1 0 -2.6 0M57.9 303.4a1.3 1.3 0 1 0 2.6 0a1.3 1.3 0 1 0 -2.6 0M47.8 317.0a1.3 1.3 0 1 0 2.6 0a1.3 1.3 0 1 0 -2.6 0M75.0 284.5a1.3 1.3 0 1 0 2.6 0a1.3 1.3 0 1 0 -2.6 0M85.8 274.8a1.3 1.3 0 1 0 2.6 0a1.3 1.3 0 1 0 -2.6 0M87.9 267.6a1.3 1.3 0 1 0 2.6 0a1.3 1.3 0 1 0 -2.6 0M88.5 273.0a1.3 1.3 0 1 0 2.6 0a1.3 1.3 0 1 0 -2.6 0M89.9 271.7a1.3 1.3 0 1 0 2.6 0a1.3 1.3 0 1 0 -2.6 0M91.2 270.7a1.3 1.3 0 1 0 2.6 0a1.3 1.3 0 1 0 -2.6 0M93.9 273.0a1.3 1.3 0 1 0 2.6 0a1.3 1.3 0 1 0 -2.6 0M95.3 269.4a1.3 1.3 0 1 0 2.6 0a1.3 1.3 0 1 0 -2.6 0M95.9 266.3a1.3 1.3 0 1 0 2.6 0a1.3 1.3 0 1 0 -2.6 0M97.3 284.5a1.3 1.3 0 1 0 2.6 0a1.3 1.3 0 1 0 -2.6 0M98.6 276.4a1.3 1.3 0 1 0 2.6 0a1.3 1.3 0 1 0 -2.6 0M98.6 255.1a1.3 1.3 0 1 0 2.6 0a1.3 1.3 0 1 0 -2.6 0M100.6 264.6a1.3 1.3 0 1 0 2.6 0a1.3 1.3 0 1 0 -2.6 0M102.7 266.0a1.3 1.3 0 1 0 2.6 0a1.3 1.3 0 1 0 -2.6 0M102.7 262.9a1.3 1.3 0 1 0 2.6 0a1.3 1.3 0 1 0 -2.6 0M102.7 269.7a1.3 1.3 0 1 0 2.6 0a1.3 1.3 0 1 0 -2.6 0M102.7 274.4a1.3 1.3 0 1 0 2.6 0a1.3 1.3 0 1 0 -2.6 0M107.4 262.2a1.3 1.3 0 1 0 2.6 0a1.3 1.3 0 1 0 -2.6 0M108.1 264.9a1.3 1.3 0 1 0 2.6 0a1.3 1.3 0 1 0 -2.6 0M109.0 281.8a1.3 1.3 0 1 0 2.6 0a1.3 1.3 0 1 0 -2.6 0M110.8 274.0a1.3 1.3 0 1 0 2.6 0a1.3 1.3 0 1 0 -2.6 0M114.1 256.9a1.3 1.3 0 1 0 2.6 0a1.3 1.3 0 1 0 -2.6 0M114.8 253.5a1.3 1.3 0 1 0 2.6 0a1.3 1.3 0 1 0 -2.6 0M116.9 250.4a1.3 1.3 0 1 0 2.6 0a1.3 1.3 0 1 0 -2.6 0M118.9 254.2a1.3 1.3 0 1 0 2.6 0a1.3 1.3 0 1 0 -2.6 0M120.2 249.9a1.3 1.3 0 1 0 2.6 0a1.3 1.3 0 1 0 -2.6 0M125.2 249.7a1.3 1.3 0 1 0 2.6 0a1.3 1.3 0 1 0 -2.6 0M127.3 244.5a1.3 1.3 0 1 0 2.6 0a1.3 1.3 0 1 0 -2.6 0M129.4 250.1a1.3 1.3 0 1 0 2.6 0a1.3 1.3 0 1 0 -2.6 0M133.2 256.4a1.3 1.3 0 1 0 2.6 0a1.3 1.3 0 1 0 -2.6 0M133.0 249.4a1.3 1.3 0 1 0 2.6 0a1.3 1.3 0 1 0 -2.6 0M158.0 213.4a1.3 1.3 0 1 0 2.6 0a1.3 1.3 0 1 0 -2.6 0M159.7 215.1a1.3 1.3 0 1 0 2.6 0a1.3 1.3 0 1 0 -2.6 0M161.9 216.2a1.3 1.3 0 1 0 2.6 0a1.3 1.3 0 1 0 -2.6 0M167.0 213.4a1.3 1.3 0 1 0 2.6 0a1.3 1.3 0 1 0 -2.6 0M159.7 219.0a1.3 1.3 0 1 0 2.6 0a1.3 1.3 0 1 0 -2.6 0M159.1 221.3a1.3 1.3 0 1 0 2.6 0a1.3 1.3 0 1 0 -2.6 0M162.5 221.6a1.3 1.3 0 1 0 2.6 0a1.3 1.3 0 1 0 -2.6 0M146.7 219.0a1.3 1.3 0 1 0 2.6 0a1.3 1.3 0 1 0 -2.6 0M167.5 225.0a1.3 1.3 0 1 0 2.6 0a1.3 1.3 0 1 0 -2.6 0M155.7 229.2a1.3 1.3 0 1 0 2.6 0a1.3 1.3 0 1 0 -2.6 0M158.0 230.3a1.3 1.3 0 1 0 2.6 0a1.3 1.3 0 1 0 -2.6 0M147.9 229.7a1.3 1.3 0 1 0 2.6 0a1.3 1.3 0 1 0 -2.6 0M146.7 231.1a1.3 1.3 0 1 0 2.6 0a1.3 1.3 0 1 0 -2.6 0M140.0 232.5a1.3 1.3 0 1 0 2.6 0a1.3 1.3 0 1 0 -2.6 0M141.1 234.8a1.3 1.3 0 1 0 2.6 0a1.3 1.3 0 1 0 -2.6 0M142.8 235.9a1.3 1.3 0 1 0 2.6 0a1.3 1.3 0 1 0 -2.6 0M140.6 237.6a1.3 1.3 0 1 0 2.6 0a1.3 1.3 0 1 0 -2.6 0M151.2 237.6a1.3 1.3 0 1 0 2.6 0a1.3 1.3 0 1 0 -2.6 0M151.8 241.0a1.3 1.3 0 1 0 2.6 0a1.3 1.3 0 1 0 -2.6 0M163.9 236.5a1.3 1.3 0 1 0 2.6 0a1.3 1.3 0 1 0 -2.6 0M155.7 246.0a1.3 1.3 0 1 0 2.6 0a1.3 1.3 0 1 0 -2.6 0M126.5 248.3a1.3 1.3 0 1 0 2.6 0a1.3 1.3 0 1 0 -2.6 0M142.2 247.7a1.3 1.3 0 1 0 2.6 0a1.3 1.3 0 1 0 -2.6 0M143.9 247.7a1.3 1.3 0 1 0 2.6 0a1.3 1.3 0 1 0 -2.6 0M137.7 253.3a1.3 1.3 0 1 0 2.6 0a1.3 1.3 0 1 0 -2.6 0M141.1 254.7a1.3 1.3 0 1 0 2.6 0a1.3 1.3 0 1 0 -2.6 0M42.7 286.1a1.3 1.3 0 1 0 2.6 0a1.3 1.3 0 1 0 -2.6 0M45.7 284.3a1.3 1.3 0 1 0 2.6 0a1.3 1.3 0 1 0 -2.6 0M53.7 285.3a1.3 1.3 0 1 0 2.6 0a1.3 1.3 0 1 0 -2.6 0" fill="#0877C8"/>
<path d="M36.7 202.5V317.45H200.6" fill="none" stroke="#bcbcbc" stroke-width="1.2"/>
<path d="M36.7 317.45v-1.6M36.7 317.45h1.6M77.67 317.45v-1.6M36.7 288.71h1.6M118.65 317.45v-1.6M36.7 259.98h1.6M159.62 317.45v-1.6M36.7 231.24h1.6M200.6 317.45v-1.6M36.7 202.5h1.6" stroke="#707070" stroke-width="1"/>
<text x="37" y="330.35" text-anchor="middle" font-size="10">0</text>
<text x="34" y="321.3" text-anchor="end" font-size="10">0</text>
<text x="77.97" y="330.35" text-anchor="middle" font-size="10">5</text>
<text x="34" y="292.56" text-anchor="end" font-size="10">5</text>
<text x="118.95" y="330.35" text-anchor="middle" font-size="10">10</text>
<text x="34" y="263.83" text-anchor="end" font-size="10">10</text>
<text x="159.93" y="330.35" text-anchor="middle" font-size="10">15</text>
<text x="34" y="235.09" text-anchor="end" font-size="10">15</text>
<text x="200.9" y="330.35" text-anchor="middle" font-size="10">20</text>
<text x="34" y="206.35" text-anchor="end" font-size="10">20</text>
<text x="118.65" y="198.5" text-anchor="middle" font-size="11">Linear regression model-rock</text>
<text x="44.7" y="214" font-size="10">R<tspan font-size="8" dy="-4.2">2</tspan><tspan dy="4.2"> = 0.92</tspan></text>
<text x="44.7" y="225.5" font-size="10">RMSE = 1.51 m</text>
<text x="44.7" y="237" font-size="10">N = 169</text>
<text x="118.65" y="343.6" text-anchor="middle" font-size="11">ICESat-2 bathymetric depth (m)</text>
<text transform="translate(19.5 259.98) rotate(-90)" text-anchor="middle" font-size="11">Estimated depth (m)</text>
<text x="108.7" y="361.9" font-size="11.5">(</text>
<text x="121.7" y="361.9" text-anchor="end" font-size="11.5">)</text>
<text transform="translate(115.2 361.1) scale(0.85 1)" text-anchor="middle" font-size="13.5" font-weight="bold">c</text>
<line x1="268" y1="317.5" x2="415.15" y2="214" stroke="#72b4e8" stroke-width="0.85"/>
<path d="M275.5 316.5L277.7 316.5L278.1 311.3L278.6 307.1L280.4 304.0L284.9 302.3L289.0 301.3L293.1 300.3L296.9 299.8L299.8 297.9L302.8 296.4L304.8 294.4L304.4 291.6L305.4 289.1L305.0 287.4L303.8 287.1L300.5 287.6L296.6 288.6L292.6 289.6L289.5 291.1L285.4 292.2L280.9 292.7L279.6 291.9L276.8 293.8L275.0 293.4L275.0 293.4L275.0 305.3Z" fill="#0877C8"/><path d="M273.8 316.8a1.3 1.3 0 1 0 2.6 0a1.3 1.3 0 1 0 -2.6 0M276.6 316.3a1.3 1.3 0 1 0 2.6 0a1.3 1.3 0 1 0 -2.6 0M276.5 314.7a1.3 1.3 0 1 0 2.6 0a1.3 1.3 0 1 0 -2.6 0M276.8 313.3a1.3 1.3 0 1 0 2.6 0a1.3 1.3 0 1 0 -2.6 0M276.4 310.9a1.3 1.3 0 1 0 2.6 0a1.3 1.3 0 1 0 -2.6 0M277.4 309.1a1.3 1.3 0 1 0 2.6 0a1.3 1.3 0 1 0 -2.6 0M277.6 306.6a1.3 1.3 0 1 0 2.6 0a1.3 1.3 0 1 0 -2.6 0M278.2 305.7a1.3 1.3 0 1 0 2.6 0a1.3 1.3 0 1 0 -2.6 0M278.9 304.4a1.3 1.3 0 1 0 2.6 0a1.3 1.3 0 1 0 -2.6 0M281.7 302.7a1.3 1.3 0 1 0 2.6 0a1.3 1.3 0 1 0 -2.6 0M283.2 302.4a1.3 1.3 0 1 0 2.6 0a1.3 1.3 0 1 0 -2.6 0M286.0 301.7a1.3 1.3 0 1 0 2.6 0a1.3 1.3 0 1 0 -2.6 0M287.4 301.3a1.3 1.3 0 1 0 2.6 0a1.3 1.3 0 1 0 -2.6 0M289.3 300.6a1.3 1.3 0 1 0 2.6 0a1.3 1.3 0 1 0 -2.6 0M291.8 300.3a1.3 1.3 0 1 0 2.6 0a1.3 1.3 0 1 0 -2.6 0M293.5 299.8a1.3 1.3 0 1 0 2.6 0a1.3 1.3 0 1 0 -2.6 0M295.4 299.8a1.3 1.3 0 1 0 2.6 0a1.3 1.3 0 1 0 -2.6 0M296.9 298.5a1.3 1.3 0 1 0 2.6 0a1.3 1.3 0 1 0 -2.6 0M298.8 298.0a1.3 1.3 0 1 0 2.6 0a1.3 1.3 0 1 0 -2.6 0M300.1 296.9a1.3 1.3 0 1 0 2.6 0a1.3 1.3 0 1 0 -2.6 0M301.9 296.7a1.3 1.3 0 1 0 2.6 0a1.3 1.3 0 1 0 -2.6 0M303.2 294.2a1.3 1.3 0 1 0 2.6 0a1.3 1.3 0 1 0 -2.6 0M303.3 291.8a1.3 1.3 0 1 0 2.6 0a1.3 1.3 0 1 0 -2.6 0M304.5 289.0a1.3 1.3 0 1 0 2.6 0a1.3 1.3 0 1 0 -2.6 0M304.0 287.6a1.3 1.3 0 1 0 2.6 0a1.3 1.3 0 1 0 -2.6 0M302.4 287.2a1.3 1.3 0 1 0 2.6 0a1.3 1.3 0 1 0 -2.6 0M301.2 287.7a1.3 1.3 0 1 0 2.6 0a1.3 1.3 0 1 0 -2.6 0M299.2 287.7a1.3 1.3 0 1 0 2.6 0a1.3 1.3 0 1 0 -2.6 0M296.8 287.8a1.3 1.3 0 1 0 2.6 0a1.3 1.3 0 1 0 -2.6 0M295.5 288.5a1.3 1.3 0 1 0 2.6 0a1.3 1.3 0 1 0 -2.6 0M293.0 289.1a1.3 1.3 0 1 0 2.6 0a1.3 1.3 0 1 0 -2.6 0M291.4 289.8a1.3 1.3 0 1 0 2.6 0a1.3 1.3 0 1 0 -2.6 0M289.6 290.3a1.3 1.3 0 1 0 2.6 0a1.3 1.3 0 1 0 -2.6 0M288.3 291.4a1.3 1.3 0 1 0 2.6 0a1.3 1.3 0 1 0 -2.6 0M286.2 291.6a1.3 1.3 0 1 0 2.6 0a1.3 1.3 0 1 0 -2.6 0M284.1 291.8a1.3 1.3 0 1 0 2.6 0a1.3 1.3 0 1 0 -2.6 0M281.4 292.6a1.3 1.3 0 1 0 2.6 0a1.3 1.3 0 1 0 -2.6 0M280.0 292.8a1.3 1.3 0 1 0 2.6 0a1.3 1.3 0 1 0 -2.6 0M278.2 291.6a1.3 1.3 0 1 0 2.6 0a1.3 1.3 0 1 0 -2.6 0M276.9 293.3a1.3 1.3 0 1 0 2.6 0a1.3 1.3 0 1 0 -2.6 0M275.7 293.8a1.3 1.3 0 1 0 2.6 0a1.3 1.3 0 1 0 -2.6 0M274.1 293.1a1.3 1.3 0 1 0 2.6 0a1.3 1.3 0 1 0 -2.6 0M273.7 293.8a1.3 1.3 0 1 0 2.6 0a1.3 1.3 0 1 0 -2.6 0M273.8 295.1a1.3 1.3 0 1 0 2.6 0a1.3 1.3 0 1 0 -2.6 0M273.5 296.9a1.3 1.3 0 1 0 2.6 0a1.3 1.3 0 1 0 -2.6 0M274.1 298.1a1.3 1.3 0 1 0 2.6 0a1.3 1.3 0 1 0 -2.6 0M274.0 300.5a1.3 1.3 0 1 0 2.6 0a1.3 1.3 0 1 0 -2.6 0M274.0 302.1a1.3 1.3 0 1 0 2.6 0a1.3 1.3 0 1 0 -2.6 0M274.0 303.6a1.3 1.3 0 1 0 2.6 0a1.3 1.3 0 1 0 -2.6 0M273.8 305.2a1.3 1.3 0 1 0 2.6 0a1.3 1.3 0 1 0 -2.6 0M273.4 307.2a1.3 1.3 0 1 0 2.6 0a1.3 1.3 0 1 0 -2.6 0M273.9 308.2a1.3 1.3 0 1 0 2.6 0a1.3 1.3 0 1 0 -2.6 0M273.9 310.1a1.3 1.3 0 1 0 2.6 0a1.3 1.3 0 1 0 -2.6 0M273.8 311.6a1.3 1.3 0 1 0 2.6 0a1.3 1.3 0 1 0 -2.6 0M274.1 313.4a1.3 1.3 0 1 0 2.6 0a1.3 1.3 0 1 0 -2.6 0M274.2 314.9a1.3 1.3 0 1 0 2.6 0a1.3 1.3 0 1 0 -2.6 0M305.9 284.7a1.3 1.3 0 1 0 2.6 0a1.3 1.3 0 1 0 -2.6 0M306.7 291.9a1.3 1.3 0 1 0 2.6 0a1.3 1.3 0 1 0 -2.6 0M304.5 297.4a1.3 1.3 0 1 0 2.6 0a1.3 1.3 0 1 0 -2.6 0M290.9 303.3a1.3 1.3 0 1 0 2.6 0a1.3 1.3 0 1 0 -2.6 0M278.8 311.4a1.3 1.3 0 1 0 2.6 0a1.3 1.3 0 1 0 -2.6 0M304.4 288.1a1.3 1.3 0 1 0 2.6 0a1.3 1.3 0 1 0 -2.6 0M315.2 294.2a1.3 1.3 0 1 0 2.6 0a1.3 1.3 0 1 0 -2.6 0M317.2 296.2a1.3 1.3 0 1 0 2.6 0a1.3 1.3 0 1 0 -2.6 0M314.5 284.8a1.3 1.3 0 1 0 2.6 0a1.3 1.3 0 1 0 -2.6 0M317.9 281.4a1.3 1.3 0 1 0 2.6 0a1.3 1.3 0 1 0 -2.6 0M319.2 274.7a1.3 1.3 0 1 0 2.6 0a1.3 1.3 0 1 0 -2.6 0M320.6 276.7a1.3 1.3 0 1 0 2.6 0a1.3 1.3 0 1 0 -2.6 0M322.6 277.4a1.3 1.3 0 1 0 2.6 0a1.3 1.3 0 1 0 -2.6 0M324.9 276.0a1.3 1.3 0 1 0 2.6 0a1.3 1.3 0 1 0 -2.6 0M327.7 267.9a1.3 1.3 0 1 0 2.6 0a1.3 1.3 0 1 0 -2.6 0M328.0 275.3a1.3 1.3 0 1 0 2.6 0a1.3 1.3 0 1 0 -2.6 0M325.9 272.6a1.3 1.3 0 1 0 2.6 0a1.3 1.3 0 1 0 -2.6 0M331.3 265.9a1.3 1.3 0 1 0 2.6 0a1.3 1.3 0 1 0 -2.6 0M332.0 268.6a1.3 1.3 0 1 0 2.6 0a1.3 1.3 0 1 0 -2.6 0M333.4 263.9a1.3 1.3 0 1 0 2.6 0a1.3 1.3 0 1 0 -2.6 0M334.0 271.3a1.3 1.3 0 1 0 2.6 0a1.3 1.3 0 1 0 -2.6 0M334.0 276.7a1.3 1.3 0 1 0 2.6 0a1.3 1.3 0 1 0 -2.6 0M336.1 266.6a1.3 1.3 0 1 0 2.6 0a1.3 1.3 0 1 0 -2.6 0M338.1 263.9a1.3 1.3 0 1 0 2.6 0a1.3 1.3 0 1 0 -2.6 0M339.4 265.2a1.3 1.3 0 1 0 2.6 0a1.3 1.3 0 1 0 -2.6 0M339.4 258.5a1.3 1.3 0 1 0 2.6 0a1.3 1.3 0 1 0 -2.6 0M341.5 261.9a1.3 1.3 0 1 0 2.6 0a1.3 1.3 0 1 0 -2.6 0M344.9 254.6a1.3 1.3 0 1 0 2.6 0a1.3 1.3 0 1 0 -2.6 0M346.7 257.7a1.3 1.3 0 1 0 2.6 0a1.3 1.3 0 1 0 -2.6 0M346.2 260.1a1.3 1.3 0 1 0 2.6 0a1.3 1.3 0 1 0 -2.6 0M349.9 250.5a1.3 1.3 0 1 0 2.6 0a1.3 1.3 0 1 0 -2.6 0M351.0 245.1a1.3 1.3 0 1 0 2.6 0a1.3 1.3 0 1 0 -2.6 0M356.4 247.2a1.3 1.3 0 1 0 2.6 0a1.3 1.3 0 1 0 -2.6 0M357.4 255.6a1.3 1.3 0 1 0 2.6 0a1.3 1.3 0 1 0 -2.6 0M359.0 256.5a1.3 1.3 0 1 0 2.6 0a1.3 1.3 0 1 0 -2.6 0M360.8 257.0a1.3 1.3 0 1 0 2.6 0a1.3 1.3 0 1 0 -2.6 0M349.8 258.3a1.3 1.3 0 1 0 2.6 0a1.3 1.3 0 1 0 -2.6 0M355.8 244.1a1.3 1.3 0 1 0 2.6 0a1.3 1.3 0 1 0 -2.6 0M359.2 244.4a1.3 1.3 0 1 0 2.6 0a1.3 1.3 0 1 0 -2.6 0M364.2 252.0a1.3 1.3 0 1 0 2.6 0a1.3 1.3 0 1 0 -2.6 0M368.7 240.7a1.3 1.3 0 1 0 2.6 0a1.3 1.3 0 1 0 -2.6 0M370.7 250.8a1.3 1.3 0 1 0 2.6 0a1.3 1.3 0 1 0 -2.6 0M371.3 223.9a1.3 1.3 0 1 0 2.6 0a1.3 1.3 0 1 0 -2.6 0M372.0 226.6a1.3 1.3 0 1 0 2.6 0a1.3 1.3 0 1 0 -2.6 0M373.4 228.6a1.3 1.3 0 1 0 2.6 0a1.3 1.3 0 1 0 -2.6 0M372.7 234.4a1.3 1.3 0 1 0 2.6 0a1.3 1.3 0 1 0 -2.6 0M372.0 237.1a1.3 1.3 0 1 0 2.6 0a1.3 1.3 0 1 0 -2.6 0M372.7 239.8a1.3 1.3 0 1 0 2.6 0a1.3 1.3 0 1 0 -2.6 0M375.4 237.4a1.3 1.3 0 1 0 2.6 0a1.3 1.3 0 1 0 -2.6 0M386.2 216.5a1.3 1.3 0 1 0 2.6 0a1.3 1.3 0 1 0 -2.6 0M388.2 217.8a1.3 1.3 0 1 0 2.6 0a1.3 1.3 0 1 0 -2.6 0M389.5 220.1a1.3 1.3 0 1 0 2.6 0a1.3 1.3 0 1 0 -2.6 0M386.8 230.3a1.3 1.3 0 1 0 2.6 0a1.3 1.3 0 1 0 -2.6 0" fill="#0877C8"/>
<path d="M268 202.5V317.5H431.5" fill="none" stroke="#bcbcbc" stroke-width="1.2"/>
<path d="M268 317.5v-1.6M268 317.5h1.6M308.88 317.5v-1.6M268 288.75h1.6M349.75 317.5v-1.6M268 260h1.6M390.62 317.5v-1.6M268 231.25h1.6M431.5 317.5v-1.6M268 202.5h1.6" stroke="#707070" stroke-width="1"/>
<text x="268.3" y="330.4" text-anchor="middle" font-size="10">0</text>
<text x="265.3" y="321.35" text-anchor="end" font-size="10">0</text>
<text x="309.18" y="330.4" text-anchor="middle" font-size="10">5</text>
<text x="265.3" y="292.6" text-anchor="end" font-size="10">5</text>
<text x="350.05" y="330.4" text-anchor="middle" font-size="10">10</text>
<text x="265.3" y="263.85" text-anchor="end" font-size="10">10</text>
<text x="390.93" y="330.4" text-anchor="middle" font-size="10">15</text>
<text x="265.3" y="235.1" text-anchor="end" font-size="10">15</text>
<text x="431.8" y="330.4" text-anchor="middle" font-size="10">20</text>
<text x="265.3" y="206.35" text-anchor="end" font-size="10">20</text>
<text x="349.75" y="198.4" text-anchor="middle" font-size="11">Band ratio model-rock</text>
<text x="273" y="214" font-size="10">R<tspan font-size="8" dy="-4.2">2</tspan><tspan dy="4.2"> = 0.90</tspan></text>
<text x="273" y="223.9" font-size="10">RMSE = 1.63 m</text>
<text x="273" y="233.8" font-size="10">N = 169</text>
<text x="349.75" y="343.6" text-anchor="middle" font-size="11">ICESat-2 bathymetric depth (m)</text>
<text transform="translate(250.4 260) rotate(-90)" text-anchor="middle" font-size="11">Estimated depth (m)</text>
<text x="339.4" y="361.9" font-size="11.5">(</text>
<text x="352.4" y="361.9" text-anchor="end" font-size="11.5">)</text>
<text transform="translate(345.9 361.1) scale(0.85 1)" text-anchor="middle" font-size="13.5" font-weight="bold">d</text>
<line x1="36.6" y1="497.05" x2="184.11" y2="394.68" stroke="#72b4e8" stroke-width="0.85"/>
<path d="M44.6 496.0L59.9 496.0L61.8 494.5L64.9 493.0L68.0 492.0L71.7 490.6L72.9 488.0L74.0 485.1L73.8 482.2L74.4 480.1L72.2 477.9L70.1 476.3L67.0 476.8L65.0 474.8L62.6 475.7L59.1 476.8L55.5 475.0L53.4 471.8L52.2 470.6L50.6 472.1L47.3 472.7L45.4 473.1L44.6 475.4L44.1 485.3Z" fill="#FF12AA"/><path d="M44.2 494.8L45.8 497.2L42.7 497.2ZM46.5 494.2L48.0 496.7L45.0 496.7ZM48.0 494.4L49.5 496.9L46.4 496.9ZM49.8 494.7L51.3 497.2L48.3 497.2ZM51.0 494.0L52.5 496.5L49.5 496.5ZM53.4 494.4L54.9 496.9L51.8 496.9ZM55.0 494.0L56.5 496.5L53.5 496.5ZM56.4 494.6L58.0 497.1L54.9 497.1ZM57.9 494.9L59.5 497.3L56.4 497.3ZM60.2 494.0L61.8 496.5L58.7 496.5ZM61.3 493.0L62.9 495.5L59.8 495.5ZM63.7 492.1L65.3 494.6L62.2 494.6ZM64.7 491.4L66.2 493.8L63.1 493.8ZM66.0 490.7L67.6 493.1L64.5 493.1ZM67.9 490.4L69.5 492.9L66.4 492.9ZM69.6 489.5L71.1 492.0L68.0 492.0ZM71.4 489.0L73.0 491.5L69.9 491.5ZM72.7 486.0L74.2 488.5L71.1 488.5ZM74.3 483.6L75.8 486.1L72.7 486.1ZM73.9 480.4L75.5 482.8L72.4 482.8ZM74.8 478.9L76.4 481.3L73.3 481.3ZM71.9 476.2L73.4 478.7L70.3 478.7ZM70.3 474.9L71.9 477.4L68.8 477.4ZM68.9 474.9L70.5 477.4L67.4 477.4ZM67.3 475.4L68.8 477.9L65.7 477.9ZM64.9 473.4L66.4 475.9L63.3 475.9ZM63.0 474.4L64.5 476.9L61.4 476.9ZM60.9 474.7L62.4 477.2L59.3 477.2ZM58.7 475.0L60.2 477.5L57.2 477.5ZM57.6 474.2L59.1 476.7L56.0 476.7ZM55.2 473.5L56.8 475.9L53.7 475.9ZM54.7 472.0L56.2 474.5L53.1 474.5ZM53.3 470.2L54.9 472.7L51.8 472.7ZM52.2 469.3L53.7 471.8L50.6 471.8ZM50.6 470.5L52.1 473.0L49.0 473.0ZM48.9 470.4L50.5 472.9L47.4 472.9ZM46.9 471.3L48.4 473.8L45.3 473.8ZM45.8 471.6L47.3 474.1L44.3 474.1ZM44.5 473.5L46.0 476.0L43.0 476.0ZM44.5 475.9L46.1 478.4L43.0 478.4ZM44.7 477.2L46.2 479.7L43.1 479.7ZM44.7 478.6L46.2 481.0L43.1 481.0ZM44.3 480.9L45.8 483.3L42.7 483.3ZM44.3 482.1L45.8 484.5L42.7 484.5ZM43.9 483.8L45.4 486.3L42.3 486.3ZM44.6 485.1L46.1 487.6L43.0 487.6ZM44.5 487.6L46.1 490.1L43.0 490.1ZM44.7 489.3L46.2 491.8L43.1 491.8ZM44.7 490.9L46.2 493.4L43.1 493.4ZM44.5 492.6L46.1 495.1L43.0 495.1ZM54.7 454.9L56.2 457.4L53.2 457.4ZM52.7 459.1L54.2 461.5L51.2 461.5ZM50.1 462.1L51.6 464.5L48.6 464.5ZM45.1 469.6L46.6 472.1L43.6 472.1ZM76.9 462.4L78.4 464.9L75.3 464.9ZM70.4 472.1L71.9 474.6L68.9 474.6ZM73.9 475.1L75.4 477.6L72.4 477.6ZM75.9 479.2L77.4 481.7L74.4 481.7ZM76.9 480.6L78.4 483.0L75.4 483.0ZM74.4 488.8L75.9 491.3L72.9 491.3ZM71.4 491.8L72.9 494.3L69.9 494.3ZM68.3 492.3L69.8 494.8L66.8 494.8ZM70.4 494.4L71.9 496.9L68.9 496.9ZM67.3 493.8L68.8 496.3L65.8 496.3ZM81.1 447.4L82.6 449.9L79.6 449.9ZM84.4 461.6L85.9 464.0L82.9 464.0ZM86.5 446.1L88.0 448.5L85.0 448.5ZM88.5 458.2L90.0 460.7L87.0 460.7ZM89.8 451.4L91.3 453.9L88.3 453.9ZM91.2 454.6L92.7 457.0L89.7 457.0ZM92.5 453.2L94.0 455.7L91.0 455.7ZM94.5 450.8L96.0 453.3L93.0 453.3ZM95.9 448.8L97.4 451.2L94.4 451.2ZM97.2 446.8L98.7 449.2L95.7 449.2ZM98.6 448.8L100.1 451.2L97.1 451.2ZM99.9 428.6L101.4 431.0L98.4 431.0ZM99.9 440.6L101.4 443.1L98.4 443.1ZM101.3 447.4L102.8 449.9L99.8 449.9ZM102.6 446.1L104.1 448.5L101.1 448.5ZM104.0 448.8L105.5 451.2L102.5 451.2ZM104.0 450.8L105.5 453.3L102.5 453.3ZM105.3 446.8L106.8 449.2L103.8 449.2ZM108.0 446.1L109.5 448.5L106.5 448.5ZM109.4 444.8L110.9 447.2L107.9 447.2ZM110.7 443.3L112.2 445.8L109.2 445.8ZM112.1 444.8L113.6 447.2L110.6 447.2ZM115.4 442.1L116.9 444.5L113.9 444.5ZM116.1 446.8L117.6 449.2L114.6 449.2ZM118.1 433.2L119.6 435.7L116.6 435.7ZM119.5 448.8L121.0 451.2L118.0 451.2ZM120.2 441.3L121.7 443.8L118.7 443.8ZM121.5 440.1L123.0 442.5L120.0 442.5ZM126.2 438.8L127.7 441.3L124.6 441.3ZM127.1 443.4L128.6 445.9L125.5 445.9ZM128.1 447.1L129.6 449.5L126.5 449.5ZM129.6 434.6L131.1 437.0L128.0 437.0ZM129.6 441.6L131.1 444.0L128.0 444.0ZM131.1 447.8L132.6 450.3L129.6 450.3ZM133.8 441.3L135.3 443.8L132.3 443.8ZM148.0 414.2L149.5 416.7L146.5 416.7ZM148.0 420.9L149.5 423.4L146.5 423.4ZM168.3 415.3L169.8 417.8L166.8 417.8ZM159.8 420.4L161.3 422.9L158.3 422.9ZM161.5 419.2L163.0 421.7L160.0 421.7ZM163.2 420.4L164.7 422.9L161.7 422.9ZM163.2 422.4L164.7 424.9L161.7 424.9ZM160.4 426.1L161.9 428.5L158.9 428.5ZM160.7 427.8L162.2 430.2L159.2 430.2ZM168.8 427.1L170.3 429.6L167.3 429.6ZM165.4 429.4L166.9 431.9L163.9 431.9ZM153.1 428.6L154.6 431.0L151.6 431.0ZM148.6 431.3L150.1 433.8L147.1 433.8ZM153.7 432.2L155.2 434.7L152.2 434.7ZM152.5 433.3L154.0 435.8L151.0 435.8ZM156.5 433.8L158.0 436.3L155.0 436.3ZM158.1 434.4L159.6 436.9L156.6 436.9ZM159.8 434.8L161.3 437.2L158.3 437.2ZM141.9 435.6L143.4 438.0L140.4 438.0ZM143.5 436.3L145.0 438.8L142.0 438.8ZM145.2 437.1L146.7 439.5L143.7 439.5ZM139.0 437.2L140.5 439.7L137.5 439.7ZM135.7 441.8L137.2 444.2L134.2 444.2ZM141.3 440.6L142.8 443.1L139.8 443.1Z" fill="#FF12AA"/>
<path d="M36.6 383.3V497.05H200.5" fill="none" stroke="#bcbcbc" stroke-width="1.2"/>
<path d="M36.6 497.05v-1.6M36.6 497.05h1.6M77.58 497.05v-1.6M36.6 468.61h1.6M118.55 497.05v-1.6M36.6 440.18h1.6M159.53 497.05v-1.6M36.6 411.74h1.6M200.5 497.05v-1.6M36.6 383.3h1.6" stroke="#707070" stroke-width="1"/>
<text x="36.9" y="510.05" text-anchor="middle" font-size="10">0</text>
<text x="33.9" y="500.9" text-anchor="end" font-size="10">0</text>
<text x="77.88" y="510.05" text-anchor="middle" font-size="10">5</text>
<text x="33.9" y="472.46" text-anchor="end" font-size="10">5</text>
<text x="118.85" y="510.05" text-anchor="middle" font-size="10">10</text>
<text x="33.9" y="444.03" text-anchor="end" font-size="10">10</text>
<text x="159.83" y="510.05" text-anchor="middle" font-size="10">15</text>
<text x="33.9" y="415.59" text-anchor="end" font-size="10">15</text>
<text x="200.8" y="510.05" text-anchor="middle" font-size="10">20</text>
<text x="33.9" y="387.15" text-anchor="end" font-size="10">20</text>
<text x="118.55" y="378.8" text-anchor="middle" font-size="11">Linear regression model-coral/algae</text>
<text x="44.7" y="394.5" font-size="10">R<tspan font-size="8" dy="-4.2">2</tspan><tspan dy="4.2"> = 0.80</tspan></text>
<text x="44.7" y="405.6" font-size="10">RMSE = 1.39 m</text>
<text x="44.7" y="416.7" font-size="10">N = 82</text>
<text x="118.55" y="523" text-anchor="middle" font-size="11">ICESat-2 bathymetric depth (m)</text>
<text transform="translate(19.4 440.18) rotate(-90)" text-anchor="middle" font-size="11">Estimated depth (m)</text>
<text x="108.7" y="541.7" font-size="11.5">(</text>
<text x="121.7" y="541.7" text-anchor="end" font-size="11.5">)</text>
<text transform="translate(115.2 540.9) scale(0.85 1)" text-anchor="middle" font-size="13.5" font-weight="bold">e</text>
<line x1="268" y1="497.4" x2="415.15" y2="393.99" stroke="#72b4e8" stroke-width="0.85"/>
<path d="M275.4 466.0L275.0 472.2L275.0 480.3L275.4 487.9L278.2 487.9L278.6 485.1L279.2 481.9L281.5 479.0L285.8 477.4L290.2 475.6L293.2 476.7L295.8 475.3L298.8 473.3L301.9 471.8L304.0 470.6L304.4 467.8L306.0 465.1L306.9 463.4L306.9 461.4L306.4 460.7L304.1 461.1L300.5 461.6L294.6 462.6L292.1 463.5L289.5 464.5L286.1 465.7L283.2 464.3L280.8 466.2L279.4 465.7L277.0 468.1Z" fill="#FF12AA"/><path d="M275.1 464.8L276.7 467.3L273.6 467.3ZM275.5 466.3L277.1 468.8L274.0 468.8ZM275.1 468.6L276.7 471.1L273.6 471.1ZM275.1 470.9L276.7 473.4L273.6 473.4ZM274.6 471.9L276.2 474.3L273.1 474.3ZM275.3 473.8L276.8 476.3L273.8 476.3ZM275.2 475.1L276.8 477.5L273.7 477.5ZM275.0 477.3L276.5 479.8L273.4 479.8ZM274.8 479.1L276.3 481.6L273.2 481.6ZM275.5 480.2L277.0 482.7L273.9 482.7ZM274.8 482.6L276.3 485.1L273.3 485.1ZM275.7 484.3L277.3 486.8L274.2 486.8ZM275.2 486.3L276.7 488.8L273.6 488.8ZM277.8 486.1L279.3 488.6L276.3 488.6ZM278.6 483.6L280.1 486.1L277.0 486.1ZM278.6 481.7L280.2 484.2L277.1 484.2ZM278.9 480.3L280.4 482.8L277.4 482.8ZM280.1 478.4L281.7 480.9L278.6 480.9ZM281.8 477.5L283.3 479.9L280.3 479.9ZM283.8 476.3L285.3 478.8L282.3 478.8ZM286.3 476.1L287.8 478.6L284.7 478.6ZM287.7 474.8L289.2 477.3L286.1 477.3ZM290.4 474.3L291.9 476.8L288.8 476.8ZM292.1 474.6L293.6 477.0L290.5 477.0ZM293.5 475.3L295.1 477.8L292.0 477.8ZM295.6 473.9L297.2 476.3L294.1 476.3ZM297.6 473.1L299.2 475.6L296.1 475.6ZM298.8 471.9L300.4 474.3L297.3 474.3ZM299.9 470.8L301.5 473.3L298.4 473.3ZM302.2 470.2L303.7 472.7L300.6 472.7ZM303.7 469.1L305.2 471.6L302.1 471.6ZM304.6 466.4L306.2 468.8L303.1 468.8ZM305.9 463.5L307.5 466.0L304.4 466.0ZM306.9 462.1L308.5 464.5L305.4 464.5ZM306.9 459.8L308.5 462.2L305.4 462.2ZM306.4 458.7L308.0 461.2L304.9 461.2ZM303.6 459.7L305.2 462.2L302.1 462.2ZM302.7 459.9L304.2 462.4L301.1 462.4ZM300.4 459.7L301.9 462.2L298.8 462.2ZM298.5 460.8L300.0 463.3L296.9 463.3ZM296.8 460.7L298.3 463.2L295.2 463.2ZM294.9 460.8L296.4 463.3L293.3 463.3ZM292.1 462.4L293.6 464.9L290.5 464.9ZM289.6 463.0L291.2 465.4L288.1 465.4ZM287.6 463.6L289.2 466.1L286.1 466.1ZM286.5 463.7L288.1 466.2L285.0 466.2ZM284.9 463.7L286.5 466.2L283.4 466.2ZM283.6 462.9L285.1 465.4L282.0 465.4ZM281.1 464.7L282.6 467.2L279.5 467.2ZM279.4 464.1L281.0 466.6L277.9 466.6ZM277.8 465.7L279.3 468.2L276.2 468.2ZM277.1 466.3L278.6 468.8L275.5 468.8ZM283.1 461.6L284.6 464.0L281.6 464.0ZM308.4 465.3L309.9 467.8L306.9 467.8ZM305.8 470.1L307.3 472.6L304.3 472.6ZM294.8 478.2L296.3 480.7L293.3 480.7ZM285.2 485.3L286.7 487.8L283.7 487.8ZM278.1 491.8L279.6 494.3L276.6 494.3ZM280.1 482.8L281.6 485.2L278.6 485.2ZM305.7 458.8L307.2 461.3L304.2 461.3ZM307.0 460.2L308.5 462.7L305.5 462.7ZM307.7 462.2L309.2 464.7L306.2 464.7ZM306.3 464.2L307.8 466.7L304.8 466.7ZM315.8 458.8L317.3 461.3L314.3 461.3ZM316.5 467.6L318.0 470.1L315.0 470.1ZM318.5 469.6L320.0 472.1L317.0 472.1ZM319.8 454.1L321.3 456.6L318.3 456.6ZM320.5 456.8L322.0 459.3L319.0 459.3ZM321.9 454.8L323.4 457.3L320.4 457.3ZM323.2 453.6L324.7 456.0L321.7 456.0ZM324.5 455.6L326.0 458.0L323.0 458.0ZM326.6 453.6L328.1 456.0L325.1 456.0ZM327.9 450.8L329.4 453.3L326.4 453.3ZM328.6 452.8L330.1 455.3L327.1 455.3ZM329.9 454.1L331.4 456.6L328.4 456.6ZM332.0 449.4L333.5 451.9L330.5 451.9ZM333.3 448.1L334.8 450.6L331.8 450.6ZM333.3 450.8L334.8 453.3L331.8 453.3ZM334.7 452.1L336.2 454.6L333.2 454.6ZM335.3 454.8L336.8 457.3L333.8 457.3ZM336.0 447.4L337.5 449.9L334.5 449.9ZM338.0 448.1L339.5 450.6L336.5 450.6ZM340.4 446.8L341.9 449.2L338.9 449.2ZM341.4 450.1L342.9 452.6L339.9 452.6ZM343.4 448.1L344.9 450.6L341.9 450.6ZM346.1 443.4L347.6 445.9L344.6 445.9ZM347.5 442.1L349.0 444.5L346.0 444.5ZM350.1 441.0L351.7 443.5L348.6 443.5ZM352.5 439.3L354.1 441.8L351.0 441.8ZM356.6 437.6L358.1 440.1L355.1 440.1ZM358.3 439.4L359.8 441.9L356.8 441.9ZM360.1 435.1L361.6 437.6L358.6 437.6ZM360.3 439.3L361.8 441.8L358.8 441.8ZM361.9 440.3L363.4 442.8L360.3 442.8ZM364.4 442.0L365.9 444.5L362.8 444.5ZM387.4 423.2L388.9 425.7L385.9 425.7ZM389.4 423.2L390.9 425.7L387.9 425.7ZM390.9 424.8L392.4 427.2L389.4 427.2ZM387.9 433.8L389.4 436.3L386.4 436.3ZM372.4 426.5L374.0 429.0L370.9 429.0ZM374.7 428.2L376.2 430.7L373.2 430.7ZM373.2 429.8L374.7 432.2L371.7 432.2ZM374.2 435.3L375.7 437.8L372.7 437.8ZM376.2 435.8L377.7 438.3L374.7 438.3ZM373.7 438.8L375.2 441.3L372.2 441.3ZM369.7 438.3L371.2 440.8L368.2 440.8ZM372.2 441.9L373.7 444.4L370.7 444.4ZM358.0 435.8L359.5 438.3L356.5 438.3ZM366.1 442.4L367.6 444.9L364.6 444.9Z" fill="#FF12AA"/>
<path d="M268 382.5V497.4H431.5" fill="none" stroke="#bcbcbc" stroke-width="1.2"/>
<path d="M268 497.4v-1.6M268 497.4h1.6M308.88 497.4v-1.6M268 468.67h1.6M349.75 497.4v-1.6M268 439.95h1.6M390.62 497.4v-1.6M268 411.23h1.6M431.5 497.4v-1.6M268 382.5h1.6" stroke="#707070" stroke-width="1"/>
<text x="268.3" y="510.25" text-anchor="middle" font-size="10">0</text>
<text x="265.3" y="501.25" text-anchor="end" font-size="10">0</text>
<text x="309.18" y="510.25" text-anchor="middle" font-size="10">5</text>
<text x="265.3" y="472.52" text-anchor="end" font-size="10">5</text>
<text x="350.05" y="510.25" text-anchor="middle" font-size="10">10</text>
<text x="265.3" y="443.8" text-anchor="end" font-size="10">10</text>
<text x="390.93" y="510.25" text-anchor="middle" font-size="10">15</text>
<text x="265.3" y="415.08" text-anchor="end" font-size="10">15</text>
<text x="431.8" y="510.25" text-anchor="middle" font-size="10">20</text>
<text x="265.3" y="386.35" text-anchor="end" font-size="10">20</text>
<text x="349.75" y="377.9" text-anchor="middle" font-size="11">Band ratio model-coral/algae</text>
<text x="274.9" y="393.8" font-size="10">R<tspan font-size="8" dy="-4.2">2</tspan><tspan dy="4.2"> = 0.88</tspan></text>
<text x="274.9" y="403.5" font-size="10">RMSE = 2.37 m</text>
<text x="274.9" y="413.2" font-size="10">N = 88</text>
<text x="349.75" y="523.5" text-anchor="middle" font-size="11">ICESat-2 bathymetric depth (m)</text>
<text transform="translate(250.4 439.95) rotate(-90)" text-anchor="middle" font-size="11">Estimated depth (m)</text>
<text x="339.7" y="541.7" font-size="11.5">(</text>
<text x="352.7" y="541.7" text-anchor="end" font-size="11.5">)</text>
<text transform="translate(346.2 540.9) scale(0.85 1)" text-anchor="middle" font-size="13.5" font-weight="bold">f</text>
</svg>
</body></html>
